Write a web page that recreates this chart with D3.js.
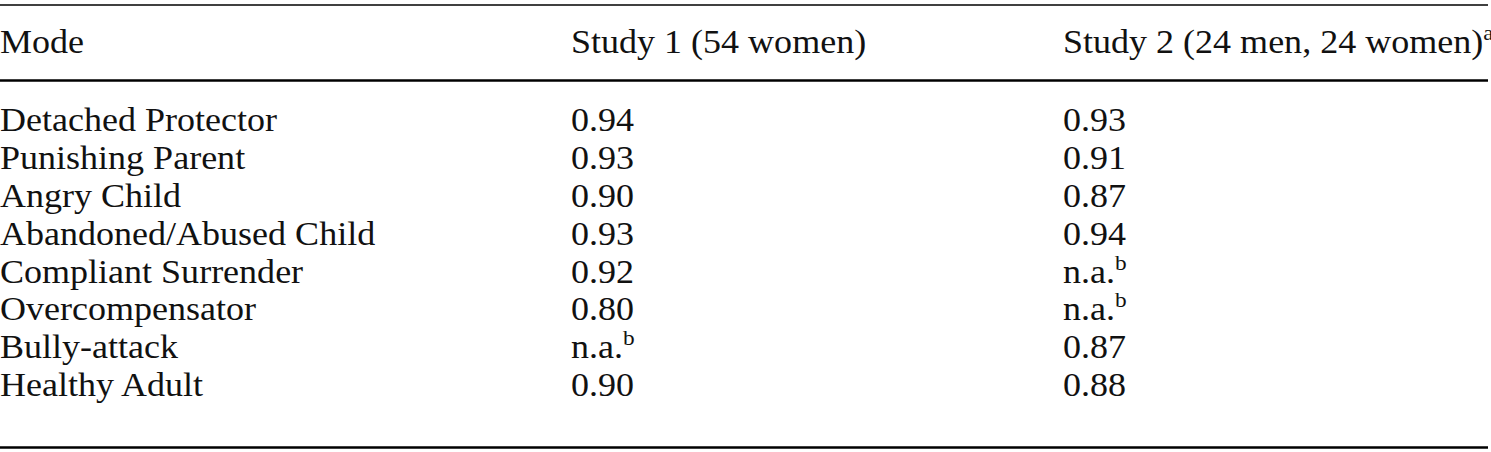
<!DOCTYPE html>
<html><head><meta charset="utf-8">
<script src="https://cdn.jsdelivr.net/npm/d3@7"></script>
<style>body{margin:0;background:#fff}svg{display:block}</style>
</head><body><svg id="c" width="1491" height="452"></svg>
<script>
const headers = ["Mode", "Study 1 (54 women)", "Study 2 (24 men, 24 women)"];
const headerSup = ["", "", "a"];
const modes = ["Detached Protector","Punishing Parent","Angry Child","Abandoned/Abused Child","Compliant Surrender","Overcompensator","Bully-attack","Healthy Adult"];
const study1 = ["0.94","0.93","0.90","0.93","0.92","0.80","n.a.","0.90"];
const study1Sup = ["","","","","","","b",""];
const study2 = ["0.93","0.91","0.87","0.94","n.a.","n.a.","0.87","0.88"];
const study2Sup = ["","","","","b","b","",""];

const svg = d3.select("#c");
const font = "'Liberation Serif','Times New Roman',serif";
const sx = 1.06;
const x = d3.scaleOrdinal().domain([0,1,2]).range([0, 571, 1063]);
const y = d3.scaleBand().domain(d3.range(modes.length)).range([101, 404]);

svg.append("line").attr("x1",0).attr("x2",1488).attr("y1",5).attr("y2",5).attr("stroke","#000").attr("stroke-width",1.5);
svg.append("line").attr("x1",0).attr("x2",1488).attr("y1",80.5).attr("y2",80.5).attr("stroke","#000").attr("stroke-width",2.5);
svg.append("line").attr("x1",0).attr("x2",1488).attr("y1",447.5).attr("y2",447.5).attr("stroke","#000").attr("stroke-width",2.5);

function cell(col, yy, txt, sup){
  const g = svg.append("g").attr("transform", `translate(${x(col)},${yy}) scale(${sx},1)`);
  const t = g.append("text").attr("x", 0).attr("y", 0)
    .attr("font-family", font).attr("font-size", 34).attr("fill","#111").text(txt);
  if (sup) t.append("tspan").attr("font-size",22).attr("dy",-13).text(sup);
}
headers.forEach((h,i)=>cell(i, 53, h, headerSup[i]));
modes.forEach((m,i)=>{
  const yy = y(i) + 30;
  cell(0, yy, m, "");
  cell(1, yy, study1[i], study1Sup[i]);
  cell(2, yy, study2[i], study2Sup[i]);
});
</script></body></html>
